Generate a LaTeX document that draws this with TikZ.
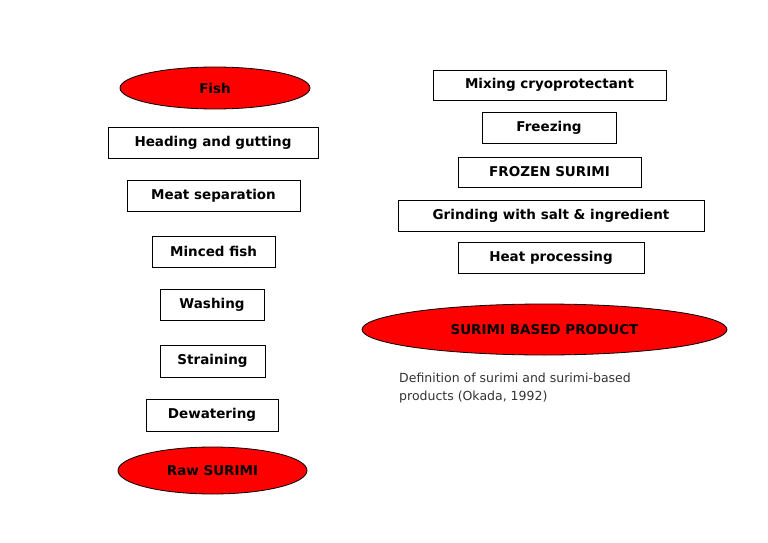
\documentclass[tikz,border=0pt]{standalone}
\usepackage{fontspec}
\setmainfont{DejaVu Sans}
\usetikzlibrary{shapes.geometric}
\begin{document}
\begin{tikzpicture}[x=1pt,y=-1pt,
  bx/.style={draw,line width=0.8pt,fill=white,inner sep=0pt,font=\bfseries\fontsize{13.5}{15}\selectfont},
  el/.style={ellipse,draw,line width=0.8pt,fill=red,inner sep=0pt,font=\bfseries\fontsize{13.5}{15}\selectfont}]
\useasboundingbox (0,0) rectangle (768,543);
\node[el,minimum width=190,minimum height=42] (fish) at (215,88) {Fish};
\node[bx,minimum width=210,minimum height=31] (hg) at (213,142.5) {Heading and gutting};
\node[bx,minimum width=173,minimum height=31] (ms) at (213.5,195.5) {Meat separation};
\node[bx,minimum width=123,minimum height=31] (mf) at (213.5,251.5) {Minced fish};
\node[bx,minimum width=104,minimum height=31] (wa) at (212,304.5) {Washing};
\node[bx,minimum width=105,minimum height=32] (st) at (212.5,361) {Straining};
\node[bx,minimum width=132,minimum height=32] (de) at (212,415) {Dewatering};
\node[el,minimum width=189,minimum height=47] (raw) at (212.5,470.5) {Raw SURIMI};
\node[bx,minimum width=233,minimum height=30] (mc) at (549.5,85) {Mixing cryoprotectant};
\node[bx,minimum width=134,minimum height=31] (fr) at (549,127.5) {Freezing};
\node[bx,minimum width=183,minimum height=30] (fs) at (549.5,172) {FROZEN SURIMI};
\node[bx,minimum width=306,minimum height=31] (gr) at (551,215.5) {Grinding with salt \& ingredient};
\node[bx,minimum width=186,minimum height=31] (hp) at (551,257.5) {Heat processing};
\node[el,minimum width=365,minimum height=51] (sbp) at (544.5,329.5) {SURIMI BASED PRODUCT};
\node[anchor=north west,align=left,inner sep=0pt,font=\fontsize{12.5}{18}\selectfont,text=black!80] (cap) at (399,373) {Definition of surimi and surimi-based\\products (Okada, 1992)};
\end{tikzpicture}
\end{document}
